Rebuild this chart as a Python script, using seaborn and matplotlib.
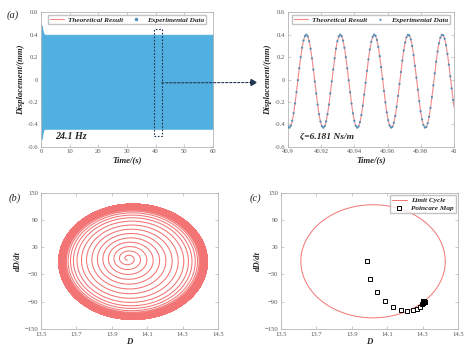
import numpy as np
import matplotlib
matplotlib.use("Agg")
import matplotlib.pyplot as plt
from matplotlib.patches import Rectangle, FancyArrow
import pandas as pd
import seaborn as sns

sns.set_theme(style="white")
plt.rcParams["font.family"] = ["Liberation Serif", "DejaVu Serif"]
plt.rcParams["mathtext.fontset"] = "stix"

# ---------------- (a) full record: amplitude envelope of the 24.1 Hz response
env_time = [0.0, 0.12, 0.22, 0.35, 0.55, 0.85, 1.3, 2.0, 60.0]
env_upper = [0.0, 0.35, 0.48, 0.47, 0.44, 0.41, 0.40, 0.40, 0.40]
env_lower = [0.0, -0.40, -0.53, -0.52, -0.48, -0.45, -0.44, -0.44, -0.44]

time_ticks = [0, 10, 20, 30, 40, 50, 60]
disp_ticks = [-0.6, -0.4, -0.2, 0.0, 0.2, 0.4, 0.6]
disp_labels = ["-0.6", "-0.4", "-0.2", "0", "0.2", "0.4", "0.6"]

# zoom window marked on the full record
zoom_box_t = [39.5, 42.1]
zoom_box_d = [-0.50, 0.45]

# ---------------- (a) zoomed window: harmonic fit of the steady state
window = [40.9, 41.0]
window_ticks = [40.9, 40.92, 40.94, 40.96, 40.98, 41.0]
window_labels = ["40.9", "40.92", "40.94", "40.96", "40.98", "41"]
fit_freq = 48.8          # Hz
fit_amp = 0.415          # mm
fit_offset = -0.015      # mm
fit_peak_time = 40.911   # s
sample_step = 0.00085    # s, measurement interval

# ---------------- (b) phase trajectory: spiral onto the limit cycle
cycle_center = [14.02, -2.0]
cycle_semi = [0.42, 127.0]
spiral_start = [13.99, 5.0]
spiral_turns = 60
spiral_knee = 11.0       # turns of the transient spiral
spiral_sharpness = 8.0
settle_share = 0.12      # share of the radius covered while settling
settle_turns = 10.0

# ---------------- (c) Poincare section points
poincare_D = [13.988, 14.003, 14.04, 14.09, 14.135, 14.18, 14.21, 14.244,
              14.267, 14.285, 14.297, 14.305, 14.30, 14.31, 14.315, 14.305, 14.312]
poincare_dD = [0.0, -40.0, -68.0, -88.0, -101.0, -107.5, -109.5, -109.0,
               -106.0, -101.0, -96.0, -92.0, -89.0, -88.0, -91.0, -91.0, -90.0]

D_ticks = [13.5, 13.7, 13.9, 14.1, 14.3, 14.5]
rate_ticks = [-150, -90, -30, 30, 90, 150]

cyan = "#52B0E0"
salmon = "#F27474"
pink = "#F08A8A"
dot_blue = "#4F8FB8"
edge_grey = "#B5B5B5"
dash_navy = "#1F3550"

W, H = 474, 347
fig = plt.figure(figsize=(W / 100, H / 100), dpi=100)


def frac(x0, y0, x1, y1):
    return [x0 / W, 1 - y1 / H, (x1 - x0) / W, (y1 - y0) / H]


ax_a = fig.add_axes(frac(41, 12.3, 213, 146.7))
ax_z = fig.add_axes(frac(288, 12.3, 454, 146.7))
ax_b = fig.add_axes(frac(41, 192.7, 218, 329))
ax_c = fig.add_axes(frac(281, 192.7, 458, 329))

lab_font = dict(fontsize=6.3, fontweight="bold", fontstyle="italic")
leg_font = dict(size=5.2, weight="bold", style="italic")
top_legend = dict(loc="upper center", ncol=2, prop=leg_font, frameon=True,
                  fancybox=False, edgecolor=edge_grey, handlelength=2.0,
                  columnspacing=0.9, borderpad=0.25, handletextpad=0.5,
                  borderaxespad=0.35, bbox_to_anchor=(0.5, 1.0))


def style_axes(ax):
    for s in ax.spines.values():
        s.set_color(edge_grey)
        s.set_linewidth(0.6)
    ax.tick_params(direction="in", length=2, width=0.5, color=edge_grey,
                   labelsize=4.8, labelcolor="#555555", pad=2,
                   top=True, right=True, bottom=True, left=True)


# ---- (a) full record
env = pd.DataFrame({"t": env_time, "up": env_upper, "lo": env_lower})
ax_a.fill_between(env["t"], env["lo"], env["up"], color=cyan, lw=0.6,
                  edgecolor=cyan)
ax_a.plot([], [], color=pink, lw=0.8, label="Theoretical Result")
ax_a.plot([], [], ls="none", marker="o", ms=1.5, color=dot_blue,
          label="Experimental Data")
ax_a.set_xlim(0, 60)
ax_a.set_ylim(-0.6, 0.6)
ax_a.set_xticks(time_ticks)
ax_a.set_xticklabels([str(t) for t in time_ticks])
ax_a.set_yticks(disp_ticks)
ax_a.set_yticklabels(disp_labels)
ax_a.set_xlabel("Time/(s)", labelpad=1, **lab_font)
ax_a.set_ylabel("Displacement/(mm)", labelpad=2, **lab_font)
ax_a.text(5, -0.53, "24.1 Hz", fontsize=7.2, fontweight="bold",
          fontstyle="italic")
ax_a.add_patch(Rectangle((zoom_box_t[0], zoom_box_d[0]),
                         zoom_box_t[1] - zoom_box_t[0],
                         zoom_box_d[1] - zoom_box_d[0],
                         fill=False, ec=dash_navy, lw=0.8, ls=(0, (1.5, 1.5)),
                         clip_on=False))
ax_a.legend(**top_legend)
style_axes(ax_a)

# dashed pointer from the marked window to the zoomed view
mid_d = -0.03
ax_a.annotate("", xy=(252 / W, 1 - 82.5 / H), xycoords="figure fraction",
              xytext=(zoom_box_t[1], mid_d), textcoords="data",
              arrowprops=dict(arrowstyle="-", color=dash_navy, lw=0.8,
                              ls=(0, (2, 1.6)), shrinkA=0, shrinkB=0))
fig.patches.append(FancyArrow(
    250 / W, 1 - 82.5 / H, 6 / W, 0, width=0, head_width=6 / H,
    head_length=5 / W, length_includes_head=True, color=dash_navy,
    transform=fig.transFigure, figure=fig))

# ---- (a) zoomed window
t_fine = np.linspace(window[0], window[1], 1200)
theory = fit_offset + fit_amp * np.cos(2 * np.pi * fit_freq * (t_fine - fit_peak_time))
t_meas = np.arange(window[0], window[1] + 1e-9, sample_step)
meas = fit_offset + fit_amp * np.cos(2 * np.pi * fit_freq * (t_meas - fit_peak_time))
sns.lineplot(x=t_fine, y=theory, ax=ax_z, color=pink, lw=0.8,
             estimator=None, label="Theoretical Result")
sns.scatterplot(x=t_meas, y=meas, ax=ax_z, color=dot_blue, s=2.5,
                edgecolor="none", label="Experimental Data", zorder=3)
ax_z.set_xlim(*window)
ax_z.set_ylim(-0.6, 0.6)
ax_z.set_xticks(window_ticks)
ax_z.set_xticklabels(window_labels)
ax_z.set_yticks(disp_ticks)
ax_z.set_yticklabels(disp_labels)
ax_z.set_xlabel("Time/(s)", labelpad=1, **lab_font)
ax_z.set_ylabel("Displacement/(mm)", labelpad=2, **lab_font)
ax_z.text(40.9075, -0.53, "\u03b6=6.181 Ns/m", fontsize=6.8,
          fontweight="bold", fontstyle="italic")
ax_z.legend(**top_legend)
style_axes(ax_z)

# ---- (b) phase trajectory
n = np.linspace(0.3, spiral_turns, 18000)
u = n / spiral_knee
r_transient = u / (1 + u ** spiral_sharpness) ** (1 / spiral_sharpness)
r_settle = 1 - np.exp(-np.clip(n - spiral_knee, 0, None) / settle_turns)
r = (1 - settle_share) * r_transient + settle_share * r_settle
theta = -2 * np.pi * n
cx = spiral_start[0] + (cycle_center[0] - spiral_start[0]) * r
cy = spiral_start[1] + (cycle_center[1] - spiral_start[1]) * r
traj = pd.DataFrame({"D": cx + cycle_semi[0] * r * np.cos(theta),
                     "dD": cy + cycle_semi[1] * r * np.sin(theta)})
sns.lineplot(data=traj, x="D", y="dD", ax=ax_b, sort=False, estimator=None,
             color=salmon, lw=0.75)
ax_b.set_xlim(13.5, 14.5)
ax_b.set_ylim(-150, 150)
ax_b.set_xticks(D_ticks)
ax_b.set_yticks(rate_ticks)
ax_b.set_xlabel("D", labelpad=1, **lab_font)
ax_b.set_ylabel("dD/dt", labelpad=2, **lab_font)
style_axes(ax_b)

# ---- (c) limit cycle and Poincare map
phi = np.linspace(0, 2 * np.pi, 400)
cyc = pd.DataFrame({
    "D": cycle_center[0] + (cycle_semi[0] - 0.012) * np.cos(phi),
    "dD": cycle_center[1] + 1.0 + (cycle_semi[1] - 2.5) * np.sin(phi),
})
sns.lineplot(data=cyc, x="D", y="dD", ax=ax_c, sort=False, estimator=None,
             color=salmon, lw=0.7, label="Limit Cycle")
ax_c.plot(poincare_D, poincare_dD, ls="none", marker="s", ms=3.2,
          mfc="white", mec="black", mew=0.7, label="Poincare Map")
ax_c.plot(poincare_D[11:], poincare_dD[11:], ls="none", marker="s", ms=3.4,
          mfc="black", mec="black", mew=0.7)
ax_c.set_xlim(13.5, 14.5)
ax_c.set_ylim(-150, 150)
ax_c.set_xticks(D_ticks)
ax_c.set_yticks(rate_ticks)
ax_c.set_xlabel("D", labelpad=1, **lab_font)
ax_c.set_ylabel("dD/dt", labelpad=2, **lab_font)
ax_c.legend(loc="upper right", prop=leg_font, frameon=True, fancybox=False,
            edgecolor=edge_grey, handlelength=2.0, borderpad=0.3,
            handletextpad=0.6, borderaxespad=0.3, labelspacing=0.3)
style_axes(ax_c)

panel_font = dict(fontsize=7.5, fontstyle="italic")
fig.text(7 / W, 1 - 18 / H, "(a)", **panel_font)
fig.text(9 / W, 1 - 201 / H, "(b)", **panel_font)
fig.text(250 / W, 1 - 201 / H, "(c)", **panel_font)

fig.savefig("out.png", dpi=100)
